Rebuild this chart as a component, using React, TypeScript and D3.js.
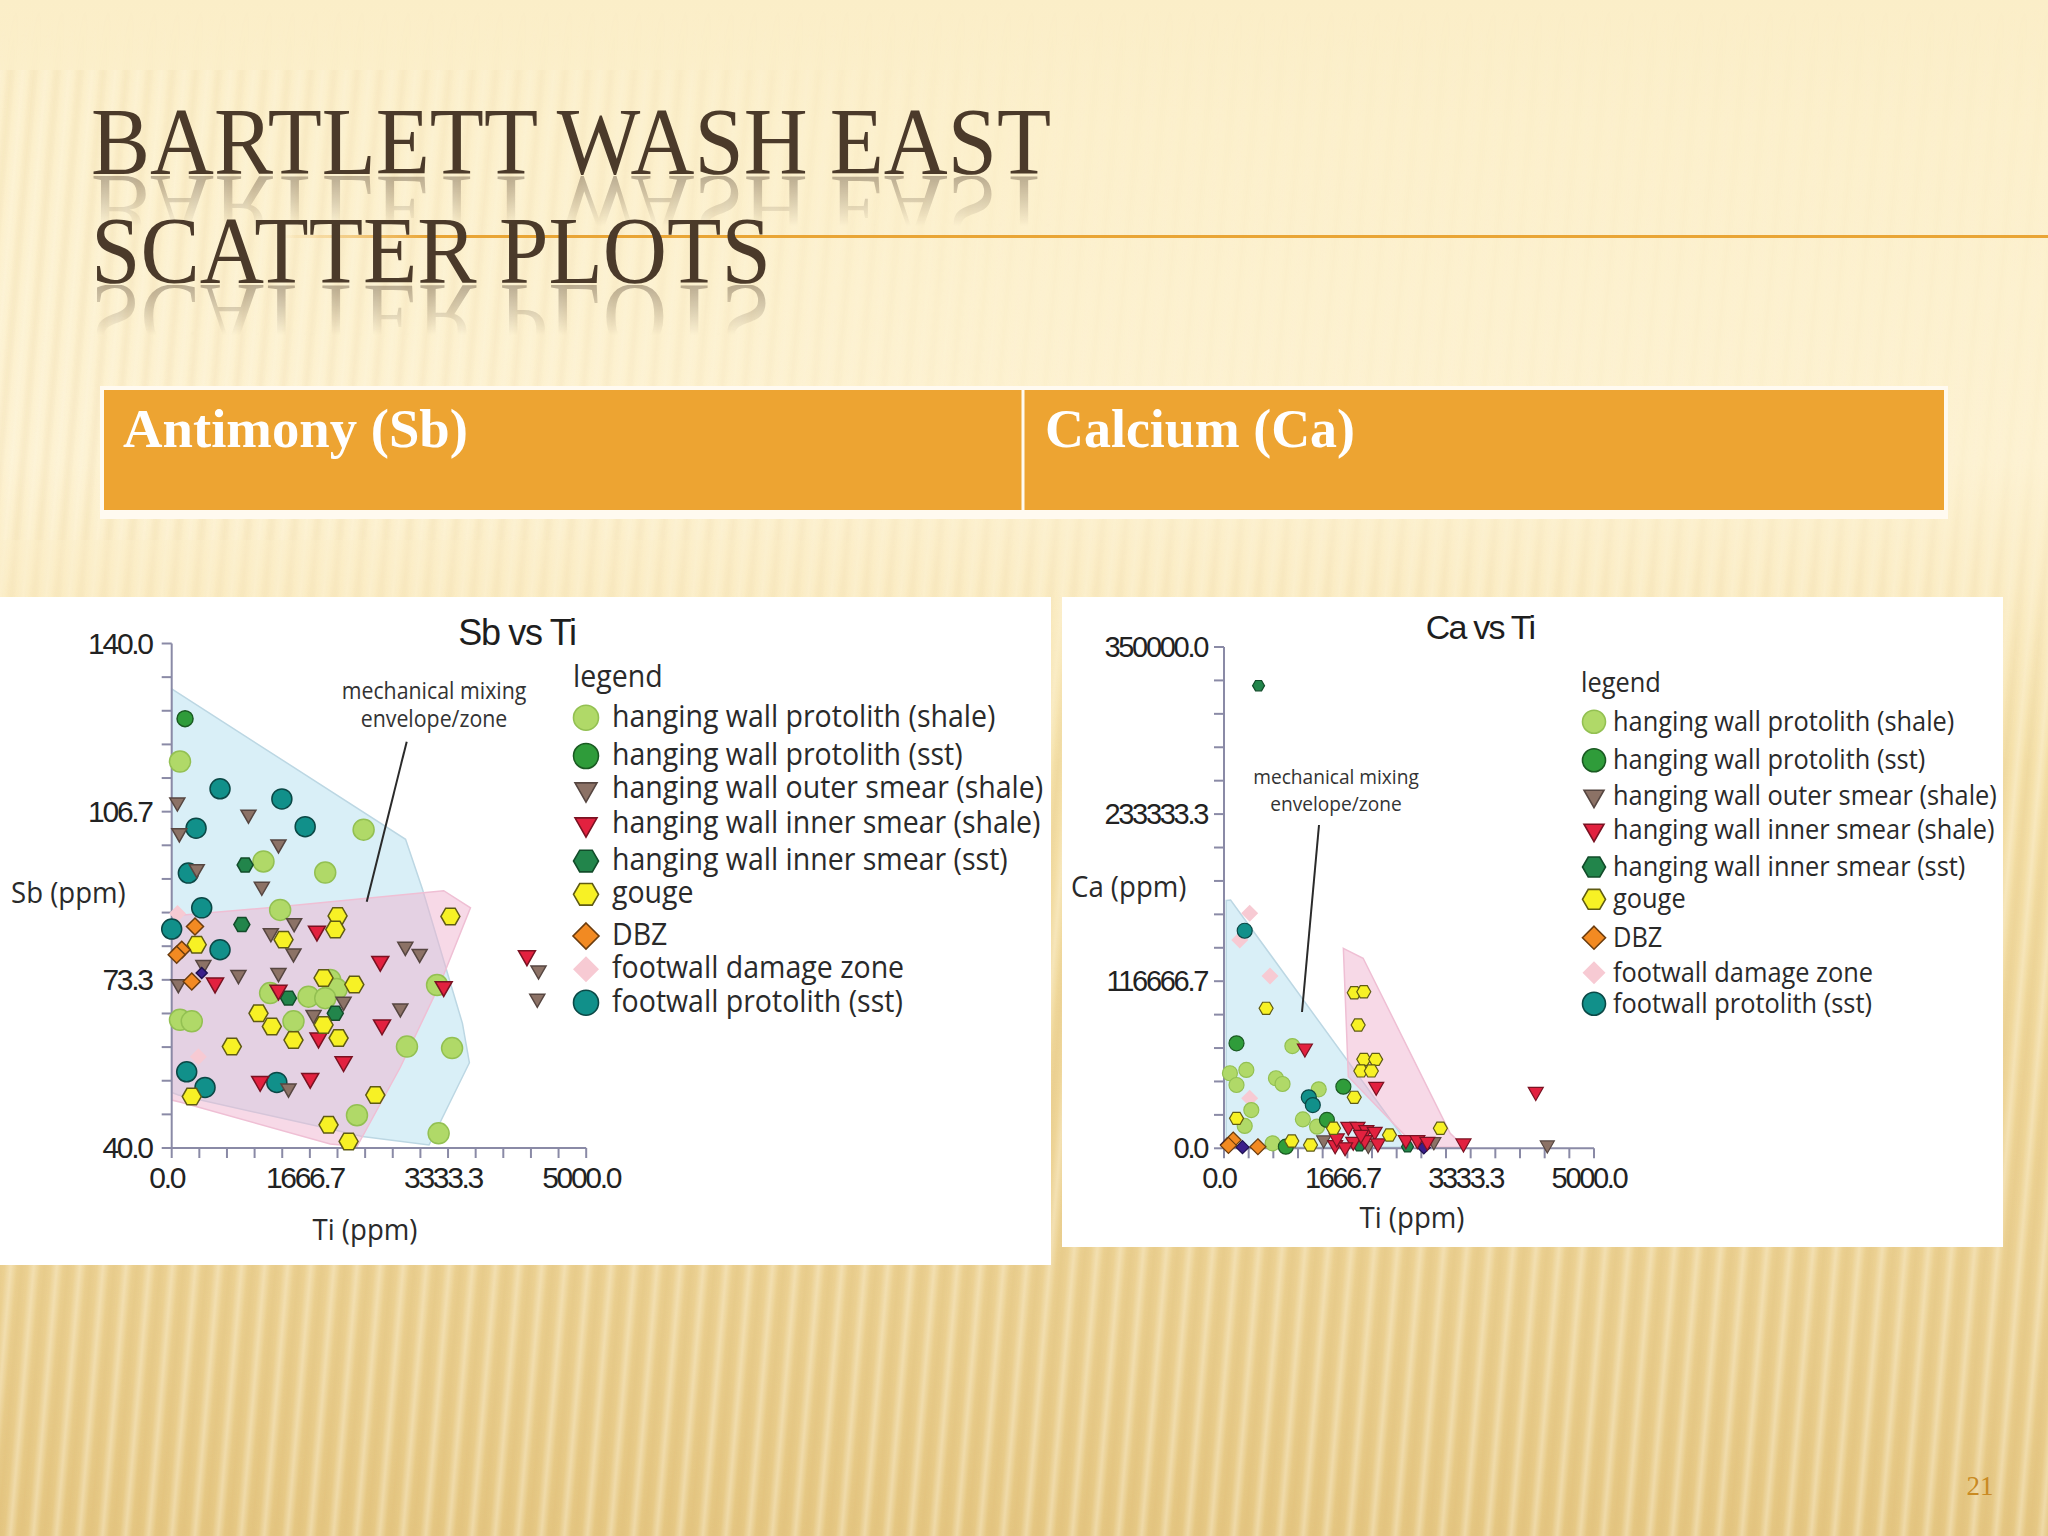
import React from "react";
import * as d3 from "d3";

type Pt = [number, number];

// ================= DATA: Sb vs Ti =================
const sbHwProtolithShale: Pt[] = [[100,116.6],[2315,103.1],[1107,96.8],[1852,94.6],[1308,87.2],[1912,73.3],[1990,71.5],[1650,70.0],[1852,69.7],[1187,70.7],[1469,65.1],[100,65.4],[242,65.1],[3201,72.3],[2838,60.1],[3382,59.8],[2235,46.5],[3220,42.9]];
const sbHwProtolithSst: Pt[] = [[161,125.1]];
const sbHwOuterSmearShale: Pt[] = [[68,108.5],[926,106.1],[92,102.4],[1288,100.2],[302,95.3],[1087,91.8],[1477,84.6],[1196,82.6],[1469,78.6],[2818,79.9],[2991,78.5],[805,74.3],[1288,74.7],[382,76.3],[2758,67.7],[2073,69.0],[1711,66.4],[1409,51.8],[4425,75.2],[4410,69.6],[80,72.5]];
const sbHwInnerSmearShale: Pt[] = [[1752,83.0],[2516,77.0],[523,72.7],[1288,71.3],[3281,72.0],[2537,64.4],[1771,61.8],[1067,53.2],[1671,53.8],[2073,57.1],[4285,78.1]];
const sbHwInnerSmearSst: Pt[] = [[886,96.1],[846,84.3],[1409,69.7],[1973,66.7]];
const sbGouge: Pt[] = [[2001,86.0],[1973,83.3],[3362,85.9],[1349,81.3],[302,80.3],[1832,73.7],[2203,72.4],[1047,66.7],[1208,64.1],[1832,64.4],[1469,61.4],[2013,61.8],[725,60.1],[242,50.2],[2456,50.5],[1892,44.6],[2134,41.3]];
const sbDbz: Pt[] = [[281,83.9],[121,79.3],[60,78.3],[242,73.0]];
const sbFootwallDamage: Pt[] = [[70,86.5],[322,58.1]];
const sbFootwallProtolith: Pt[] = [[583,111.2],[1329,109.2],[1610,103.7],[294,103.4],[201,94.5],[362,87.6],[0,83.4],[583,79.3],[181,55.1],[402,52.0],[1268,53.0]];
const sbUnlabeled: Pt[] = [[362,74.7]];
const sbEnvelopeBlue: Pt[] = [[0,131],[2821,101.2],[3023,91.4],[3507,64.7],[3591,56.9],[3104,40.6],[2300,42.3],[1900,43.8],[80,50.5],[0,51]];
const sbEnvelopePink: Pt[] = [[0,86],[1300,87.8],[3281,91],[3604,87.6],[3241,72.7],[2758,56],[2235,40.3],[1912,40.8],[121,49.0],[0,49.5]];

// ================= DATA: Ca vs Ti =================
const caHwProtolithShale: Pt[] = [[924,71400],[80,52400],[302,54700],[169,44200],[702,48900],[791,44900],[1280,41200],[369,26700],[280,15600],[1066,20200],[657,3500],[1258,15100]];
const caHwProtolithSst: Pt[] = [[169,73300],[1613,43000],[1391,19800],[836,1100]];
const caHwOuterSmearShale: Pt[] = [[1347,5800],[2836,4600],[4369,2300],[1950,2000]];
const caHwInnerSmearShale: Pt[] = [[1093,69800],[2057,43000],[3236,3500],[4213,39500],[1502,2300],[1680,15100],[1804,15100],[1924,12800],[2036,11600],[1747,4600],[1902,5800],[2080,3500],[1636,800],[1524,7000],[2458,5800],[2613,5800],[2747,4600],[1850,9500]];
const caHwInnerSmearSst: Pt[] = [[467,323000],[2480,1100],[1830,1800]];
const caGouge: Pt[] = [[569,97750],[1760,108600],[1889,109300],[1813,86100],[1889,62100],[2049,62100],[1849,54000],[1991,54000],[1760,35600],[169,20900],[1480,14000],[2236,9300],[2924,14000],[916,5100],[1169,2300]];
const caDbz: Pt[] = [[124,5800],[458,1100],[60,2000]];
const caFootwallDamage: Pt[] = [[347,164100],[213,145400],[622,120300],[347,34900]];
const caFootwallProtolith: Pt[] = [[280,151900],[1146,35600],[1200,30200]];
const caUnlabeled: Pt[] = [[250,800],[40,2500],[2700,600]];
const caEnvelopeBlue: Pt[] = [[30,173000],[89,173400],[2520,700],[30,700]];
const caEnvelopePink: Pt[] = [[1613,139600],[1880,132700],[3057,10500],[3250,700],[2600,700],[1680,50000]];

// ================= LABELS =================
const legendKeys = ["hwpShale","hwpSst","hwOuter","hwInnerShale","hwInnerSst","gouge","dbz","fdz","fwp"] as const;
const legendLabels = ["hanging wall protolith (shale)","hanging wall protolith (sst)","hanging wall outer smear (shale)","hanging wall inner smear (shale)","hanging wall inner smear (sst)","gouge","DBZ","footwall damage zone","footwall protolith (sst)"];
const tiDomain: Pt = [0, 5000];
const sbDomain: Pt = [40, 140];
const caDomain: Pt = [0, 350000];

type Key = typeof legendKeys[number] | "other";

// ================= STYLES =================
const STYLE: Record<Key, { shape: string; fill: string; stroke: string }> = {
  hwpShale: { shape: "circle", fill: "#b0d968", stroke: "#93c052" },
  hwpSst: { shape: "circle", fill: "#2f9c3a", stroke: "#1a5a22" },
  hwOuter: { shape: "tri", fill: "#8c7266", stroke: "#564641" },
  hwInnerShale: { shape: "tri", fill: "#e2213f", stroke: "#7a1222" },
  hwInnerSst: { shape: "hex", fill: "#22854b", stroke: "#124c2a" },
  gouge: { shape: "hex", fill: "#f7f125", stroke: "#5f5b14" },
  dbz: { shape: "diamond", fill: "#f28a22", stroke: "#6b3c0e" },
  fdz: { shape: "diamond", fill: "#f7cad3", stroke: "none" },
  fwp: { shape: "circle", fill: "#11908a", stroke: "#0b4846" },
  other: { shape: "diamond", fill: "#3a1f8a", stroke: "#1d1050" },
};

const circleSym = { draw(ctx: any, w: number) { const r = w / 2; ctx.moveTo(r, 0); ctx.arc(0, 0, r, 0, 2 * Math.PI); } };
const triSym = { draw(ctx: any, w: number) { const h = w * 0.87; ctx.moveTo(-w / 2, -h / 3); ctx.lineTo(w / 2, -h / 3); ctx.lineTo(0, (2 * h) / 3); ctx.closePath(); } };
const hexSym = { draw(ctx: any, w: number) { const r = w / 2; for (let k = 0; k < 6; k++) { const a = (k * Math.PI) / 3; const px = r * Math.cos(a), py = r * Math.sin(a); if (k === 0) ctx.moveTo(px, py); else ctx.lineTo(px, py); } ctx.closePath(); } };
const diamondSym = { draw(ctx: any, w: number) { const r = w / 2; ctx.moveTo(0, -r); ctx.lineTo(r, 0); ctx.lineTo(0, r); ctx.lineTo(-r, 0); ctx.closePath(); } };
const SYM: Record<string, any> = { circle: circleSym, tri: triSym, hex: hexSym, diamond: diamondSym };
const symPath = (k: Key, w: number) => d3.symbol(SYM[STYLE[k].shape], w)() as string;

const SANS = "'Open Sans', 'Noto Sans', sans-serif";
const HELV = "'Liberation Sans', Arial, sans-serif";
const SERIF = "'Liberation Serif', 'DejaVu Serif', serif";

const SText = ({ x, y, size, sx = 0.92, anchor = "start", fill = "#2a2a2a", family = SANS, ls = 0, children }: any) => (
  <text transform={`translate(${x},${y}) scale(${sx},1)`} fontSize={size} textAnchor={anchor} fill={fill} fontFamily={family} letterSpacing={ls}>{children}</text>
);

interface ChartProps {
  xr: Pt; yr: Pt; yDomain: Pt;
  series: { key: Key; data: Pt[] }[];
  blue: Pt[]; pink: Pt[];
  sizes: Record<Key, number>; sw: number;
  title: string; titleX: number; titleY: number; titleSize: number; titleLs: number;
  yLabel: string; yLabelX: number; yLabelY: number;
  xLabelX: number; xLabelY: number; axisFont: number;
  yTickGap: number;
  note: { x: number; y1: number; y2: number; size: number; line: [number, number, number, number] };
  legend: { x: number; y: number; tx: number; sx: number; baselines: number[]; size: number; symSizes: Record<string, number> };
}

function Chart(p: ChartProps) {
  const x = d3.scaleLinear().domain(tiDomain).range(p.xr);
  const y = d3.scaleLinear().domain(p.yDomain).range(p.yr);
  const line = d3.line<Pt>().x(d => x(d[0])).y(d => y(d[1])).curve(d3.curveLinearClosed);
  const yt = d3.range(16).map(i => p.yDomain[0] + (i * (p.yDomain[1] - p.yDomain[0])) / 15);
  const xt = d3.range(16).map(i => tiDomain[0] + (i * (tiDomain[1] - tiDomain[0])) / 15);
  const fmt = d3.format(".1f");
  const axisColor = "#8a8aa6";
  const x0 = p.xr[0], yb = p.yr[0];
  return (
    <g>
      <path d={line(p.blue) as string} fill="#d9eff7" stroke="#bcd7e3" strokeWidth={1.5} />
      <path d={line(p.pink) as string} fill="#efb3cf" fillOpacity={0.5} stroke="#efbfd4" strokeWidth={1.5} />
      <line x1={x0} x2={x0} y1={p.yr[1]} y2={yb} stroke={axisColor} strokeWidth={2} />
      <line x1={x0} x2={p.xr[1]} y1={yb} y2={yb} stroke={axisColor} strokeWidth={2} />
      {yt.map((v, i) => <line key={"yt" + i} x1={x0 - 10} x2={x0} y1={y(v)} y2={y(v)} stroke={axisColor} strokeWidth={2} />)}
      {xt.map((v, i) => <line key={"xt" + i} x1={x(v)} x2={x(v)} y1={yb} y2={yb + 10} stroke={axisColor} strokeWidth={2} />)}
      {yt.filter((_, i) => i % 5 === 0).map((v, i) => (
        <text key={"yl" + i} x={x0 - p.yTickGap} y={y(v) + 10} fontSize={p.axisFont} textAnchor="end" fontFamily={HELV} letterSpacing={-2.3} fill="#222">{fmt(v)}</text>
      ))}
      {xt.filter((_, i) => i % 5 === 0).map((v, i) => (
        <text key={"xl" + i} x={x(v) - 5} y={yb + 40} fontSize={p.axisFont} textAnchor="middle" fontFamily={HELV} letterSpacing={-2.3} fill="#222">{fmt(v)}</text>
      ))}
      <text x={p.titleX} y={p.titleY} fontSize={p.titleSize} textAnchor="middle" fontFamily={HELV} letterSpacing={p.titleLs} fill="#1e1e1e">{p.title}</text>
      <SText x={p.yLabelX} y={p.yLabelY} size={30}>{p.yLabel}</SText>
      <SText x={p.xLabelX} y={p.xLabelY} size={30} anchor="middle">Ti (ppm)</SText>
      <SText x={p.note.x} y={p.note.y1} size={p.note.size} anchor="middle" fill="#333">mechanical mixing</SText>
      <SText x={p.note.x} y={p.note.y2} size={p.note.size} anchor="middle" fill="#333">envelope/zone</SText>
      <line x1={p.note.line[0]} y1={p.note.line[1]} x2={p.note.line[2]} y2={p.note.line[3]} stroke="#2a2a2a" strokeWidth={2} />
      {p.series.map(s => (
        <g key={s.key}>
          {s.data.map((d, i) => (
            <path key={i} d={symPath(s.key, p.sizes[s.key])} transform={`translate(${x(d[0])},${y(d[1])})`}
              fill={STYLE[s.key].fill} stroke={STYLE[s.key].stroke} strokeWidth={p.sw} />
          ))}
        </g>
      ))}
      <SText x={p.legend.x} y={p.legend.y} size={p.legend.size} sx={p.legend.sx}>legend</SText>
      {legendKeys.map((k, i) => (
        <g key={"lg" + k}>
          <path d={symPath(k, p.legend.symSizes[STYLE[k].shape])} transform={`translate(${p.legend.x + 13},${p.legend.baselines[i] - 9})`}
            fill={STYLE[k].fill} stroke={STYLE[k].stroke} strokeWidth={1.6} />
          <SText x={p.legend.tx} y={p.legend.baselines[i]} size={p.legend.size} sx={p.legend.sx}>{legendLabels[i]}</SText>
        </g>
      ))}
    </g>
  );
}

export default function App() {
  const sbSeries = [
    { key: "fdz" as Key, data: sbFootwallDamage },
    { key: "hwpShale" as Key, data: sbHwProtolithShale },
    { key: "fwp" as Key, data: sbFootwallProtolith },
    { key: "hwpSst" as Key, data: sbHwProtolithSst },
    { key: "hwInnerSst" as Key, data: sbHwInnerSmearSst },
    { key: "hwOuter" as Key, data: sbHwOuterSmearShale },
    { key: "hwInnerShale" as Key, data: sbHwInnerSmearShale },
    { key: "gouge" as Key, data: sbGouge },
    { key: "dbz" as Key, data: sbDbz },
    { key: "other" as Key, data: sbUnlabeled },
  ];
  const caSeries = [
    { key: "fdz" as Key, data: caFootwallDamage },
    { key: "hwpShale" as Key, data: caHwProtolithShale },
    { key: "fwp" as Key, data: caFootwallProtolith },
    { key: "hwpSst" as Key, data: caHwProtolithSst },
    { key: "hwInnerSst" as Key, data: caHwInnerSmearSst },
    { key: "hwOuter" as Key, data: caHwOuterSmearShale },
    { key: "other" as Key, data: caUnlabeled },
    { key: "hwInnerShale" as Key, data: caHwInnerSmearShale },
    { key: "gouge" as Key, data: caGouge },
    { key: "dbz" as Key, data: caDbz },
  ];
  const sbSizes: Record<Key, number> = { hwpShale: 21, hwpSst: 16, hwOuter: 15, hwInnerShale: 17, hwInnerSst: 16, gouge: 19, dbz: 17, fdz: 17, fwp: 20, other: 11 };
  const caSizes: Record<Key, number> = { hwpShale: 15, hwpSst: 15, hwOuter: 14, hwInnerShale: 15, hwInnerSst: 12, gouge: 14, dbz: 16, fdz: 17, fwp: 15, other: 13 };

  return (
    <svg width={2048} height={1536} viewBox="0 0 2048 1536" style={{ position: "absolute", left: 0, top: 0 }}>
      <defs>
        <linearGradient id="bg" x1="0" y1="0" x2="0" y2="1">
          <stop offset="0" stopColor="#fbeec8" />
          <stop offset="0.08" stopColor="#fcf0cc" />
          <stop offset="0.3" stopColor="#fdf2d2" />
          <stop offset="0.38" stopColor="#fbedc6" />
          <stop offset="0.5" stopColor="#f5e1aa" />
          <stop offset="0.7" stopColor="#efd699" />
          <stop offset="0.85" stopColor="#ebd091" />
          <stop offset="1" stopColor="#e6c884" />
        </linearGradient>
        <linearGradient id="stripeLight" x1="0" y1="0" x2="1" y2="0">
          <stop offset="0" stopColor="#fff8e4" stopOpacity="0" />
          <stop offset="0.5" stopColor="#fff8e4" stopOpacity="0.38" />
          <stop offset="1" stopColor="#fff8e4" stopOpacity="0" />
        </linearGradient>
        <linearGradient id="stripeDark" x1="0" y1="0" x2="1" y2="0">
          <stop offset="0" stopColor="#c49a4a" stopOpacity="0" />
          <stop offset="0.5" stopColor="#c49a4a" stopOpacity="0.1" />
          <stop offset="1" stopColor="#c49a4a" stopOpacity="0" />
        </linearGradient>
        <pattern id="stripes" width="23" height="400" patternUnits="userSpaceOnUse" patternTransform="rotate(5)">
          <rect x="0" y="0" width="12" height="400" fill="url(#stripeLight)" />
          <rect x="11" y="0" width="12" height="400" fill="url(#stripeDark)" />
        </pattern>
        <linearGradient id="smv" x1="0" y1="0" x2="0" y2="1">
          <stop offset="0" stopColor="#000" />
          <stop offset="0.05" stopColor="#222" />
          <stop offset="0.3" stopColor="#333" />
          <stop offset="0.38" stopColor="#999" />
          <stop offset="0.5" stopColor="#fff" />
          <stop offset="1" stopColor="#fff" />
        </linearGradient>
        <linearGradient id="smh" x1="0" y1="0" x2="1" y2="0">
          <stop offset="0" stopColor="#fff" stopOpacity="0.8" />
          <stop offset="0.3" stopColor="#fff" stopOpacity="0.45" />
          <stop offset="0.5" stopColor="#fff" stopOpacity="0" />
        </linearGradient>
        <mask id="stripeMask" maskUnits="userSpaceOnUse" x="0" y="0" width="2048" height="1536">
          <rect x="0" y="0" width="2048" height="1536" fill="url(#smv)" />
          <rect x="0" y="70" width="2048" height="470" fill="url(#smh)" />
        </mask>
        <linearGradient id="lineFade" gradientUnits="userSpaceOnUse" x1="280" y1="0" x2="430" y2="0">
          <stop offset="0" stopColor="#e9a535" stopOpacity="0" />
          <stop offset="1" stopColor="#e9a535" stopOpacity="1" />
        </linearGradient>
        <linearGradient id="rf1" gradientUnits="userSpaceOnUse" x1="0" y1="176" x2="0" y2="226">
          <stop offset="0" stopColor="#fff" stopOpacity="0.45" />
          <stop offset="1" stopColor="#fff" stopOpacity="0" />
        </linearGradient>
        <linearGradient id="rf2" gradientUnits="userSpaceOnUse" x1="0" y1="285" x2="0" y2="335">
          <stop offset="0" stopColor="#fff" stopOpacity="0.45" />
          <stop offset="1" stopColor="#fff" stopOpacity="0" />
        </linearGradient>
        <mask id="rm1" maskUnits="userSpaceOnUse" x="0" y="0" width="2048" height="1536">
          <rect x="0" y="176" width="1200" height="60" fill="url(#rf1)" />
        </mask>
        <mask id="rm2" maskUnits="userSpaceOnUse" x="0" y="0" width="2048" height="1536">
          <rect x="0" y="285" width="1200" height="60" fill="url(#rf2)" />
        </mask>
      </defs>

      {/* background */}
      <rect x="0" y="0" width="2048" height="1536" fill="url(#bg)" />
      <rect x="0" y="0" width="2048" height="1536" fill="url(#stripes)" mask="url(#stripeMask)" />

      {/* title */}
      <line x1="280" x2="2048" y1="236.5" y2="236.5" stroke="url(#lineFade)" strokeWidth="3" />
      <g fill="#4b3a2a" fontFamily={SERIF} fontSize={95}>
        <text x="91" y="174" textLength="960" lengthAdjust="spacingAndGlyphs">BARTLETT WASH EAST</text>
        <text x="91" y="283" textLength="680" lengthAdjust="spacingAndGlyphs">SCATTER PLOTS</text>
      </g>
      <g fill="#6a5844" fontFamily={SERIF} fontSize={95}>
        <g mask="url(#rm1)">
          <text x="91" y="174" transform="matrix(1,0,0,-1,0,350)" textLength="960" lengthAdjust="spacingAndGlyphs">BARTLETT WASH EAST</text>
        </g>
        <g mask="url(#rm2)">
          <text x="91" y="283" transform="matrix(1,0,0,-1,0,568)" textLength="680" lengthAdjust="spacingAndGlyphs">SCATTER PLOTS</text>
        </g>
      </g>

      {/* header table */}
      <rect x="100" y="386" width="1848" height="133" fill="#fffaf0" />
      <rect x="104" y="390" width="1840" height="120" fill="#eda432" />
      <rect x="1021.5" y="388" width="3" height="124" fill="#fffaf0" />
      <text x="123" y="447" fontFamily={SERIF} fontWeight="bold" fontSize={54} fill="#ffffff" textLength="345" lengthAdjust="spacingAndGlyphs">Antimony (Sb)</text>
      <text x="1045" y="447" fontFamily={SERIF} fontWeight="bold" fontSize={54} fill="#ffffff" textLength="310" lengthAdjust="spacingAndGlyphs">Calcium (Ca)</text>

      {/* panels */}
      <rect x="0" y="597" width="1051" height="668" fill="#ffffff" />
      <rect x="1062" y="597" width="941" height="650" fill="#ffffff" />

      <Chart
        xr={[171.7, 586.2]} yr={[1148, 643.5]} yDomain={sbDomain}
        series={sbSeries} blue={sbEnvelopeBlue} pink={sbEnvelopePink}
        sizes={sbSizes} sw={1.5}
        title="Sb vs Ti" titleX={517} titleY={645} titleSize={36} titleLs={-1.3}
        yLabel="Sb (ppm)" yLabelX={11} yLabelY={903}
        xLabelX={365} xLabelY={1240} axisFont={30} yTickGap={20}
        note={{ x: 434, y1: 699, y2: 727, size: 23.2, line: [406.7, 741.7, 366.7, 901.7] }}
        legend={{ x: 573, y: 687, tx: 612, sx: 0.92, size: 31, baselines: [726.7, 765, 798.3, 833.3, 870, 903.3, 945, 978.3, 1011.7], symSizes: { circle: 25, tri: 22, hex: 25, diamond: 26 } }}
      />
      <Chart
        xr={[1224, 1594]} yr={[1148.3, 647]} yDomain={caDomain}
        series={caSeries} blue={caEnvelopeBlue} pink={caEnvelopePink}
        sizes={caSizes} sw={1.2}
        title="Ca vs Ti" titleX={1480} titleY={639} titleSize={34} titleLs={-1.8}
        yLabel="Ca (ppm)" yLabelX={1071} yLabelY={897}
        xLabelX={1412} xLabelY={1228} axisFont={29} yTickGap={17}
        note={{ x: 1336, y1: 784, y2: 811, size: 20.8, line: [1319, 825, 1302, 1012] }}
        legend={{ x: 1581, y: 692, tx: 1613, sx: 0.92, size: 27.6, baselines: [730.7, 769.3, 805, 839, 876, 908.3, 946.7, 981.7, 1012.7], symSizes: { circle: 23, tri: 20, hex: 23, diamond: 23 } }}
      />

      {/* page number */}
      <text x="1980" y="1495" fontFamily={SERIF} fontSize={27} textAnchor="middle" fill="#c98a22">21</text>
    </svg>
  );
}
